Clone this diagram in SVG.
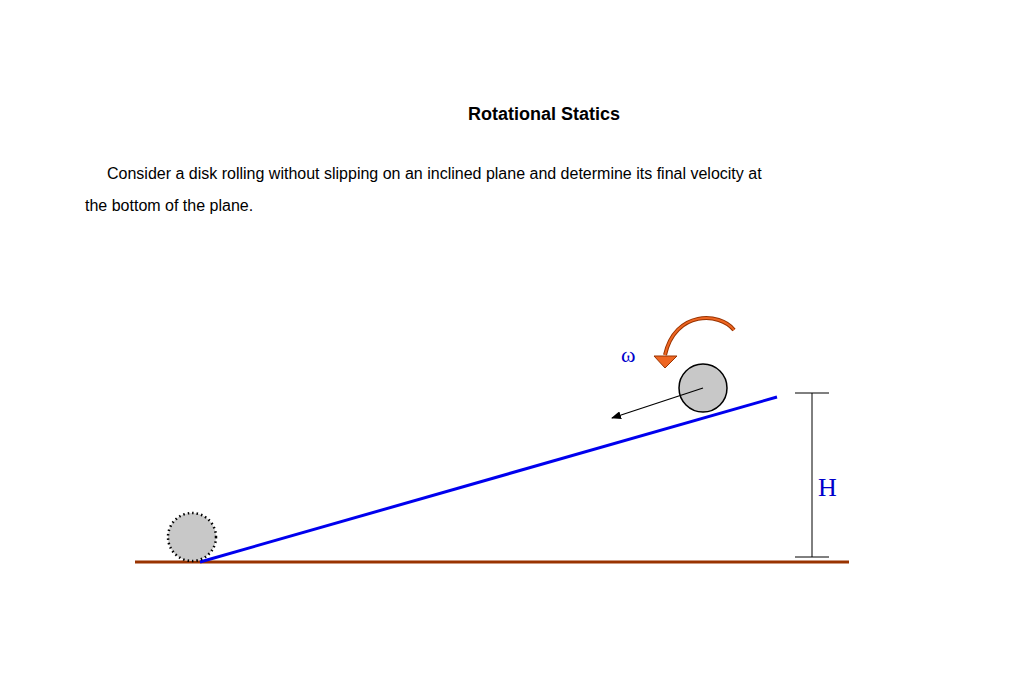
<svg xmlns="http://www.w3.org/2000/svg" width="1024" height="688" viewBox="0 0 1024 688">
<style>
.t{font-family:"Liberation Sans",Arial,sans-serif;font-size:16px;fill:#000}
.s{font-family:"Liberation Serif","Times New Roman",serif;fill:#0000cc}
</style>
<defs>
<marker id="ah" markerWidth="10" markerHeight="8" refX="9" refY="4" orient="auto" markerUnits="userSpaceOnUse"><path d="M0,0 L10,4 L0,8 Z" fill="#000"/></marker>
</defs>
<rect width="1024" height="688" fill="#fff"/>
<text x="544" y="120" text-anchor="middle" class="t" style="font-weight:bold;font-size:18px">Rotational Statics</text>
<text x="107" y="179" class="t">Consider a disk rolling without slipping on an inclined plane and determine its final velocity at</text>
<text x="85" y="211" class="t">the bottom of the plane.</text>
<g id="ground"><line x1="135" y1="562" x2="849" y2="562" stroke="#993300" stroke-width="3"/></g>
<g id="incline"><line x1="200" y1="562" x2="777" y2="397" stroke="#0000ee" stroke-width="3"/></g>
<g id="disk-bottom"><circle cx="192" cy="537" r="24" fill="#c8c8c8" stroke="#000" stroke-width="2.5" stroke-dasharray="1.5 3"/></g>
<g id="disk-top"><circle cx="703" cy="388" r="24" fill="#c8c8c8" stroke="#000" stroke-width="1.5"/></g>
<g id="connectors">
<line x1="703" y1="388" x2="612" y2="418" stroke="#000" stroke-width="1.2" marker-end="url(#ah)"/>
<path d="M734,330 C720,312 675,310 665,355" fill="none" stroke="#993300" stroke-width="4"/>
<path d="M734,330 C720,312 675,310 665,355" fill="none" stroke="#ee6622" stroke-width="2"/>
<path d="M654,356 L677,356 L665,368 Z" fill="#ee6622" stroke="#993300" stroke-width="1"/>
</g>
<text x="621" y="362" class="s" font-size="22">ω</text>
<g id="height">
<line x1="812" y1="393" x2="812" y2="557" stroke="#000" stroke-width="1"/>
<line x1="795" y1="393" x2="829" y2="393" stroke="#000" stroke-width="1"/>
<line x1="795" y1="557" x2="829" y2="557" stroke="#000" stroke-width="1"/>
<text x="818" y="496" class="s" font-size="26">H</text>
</g>
</svg>
